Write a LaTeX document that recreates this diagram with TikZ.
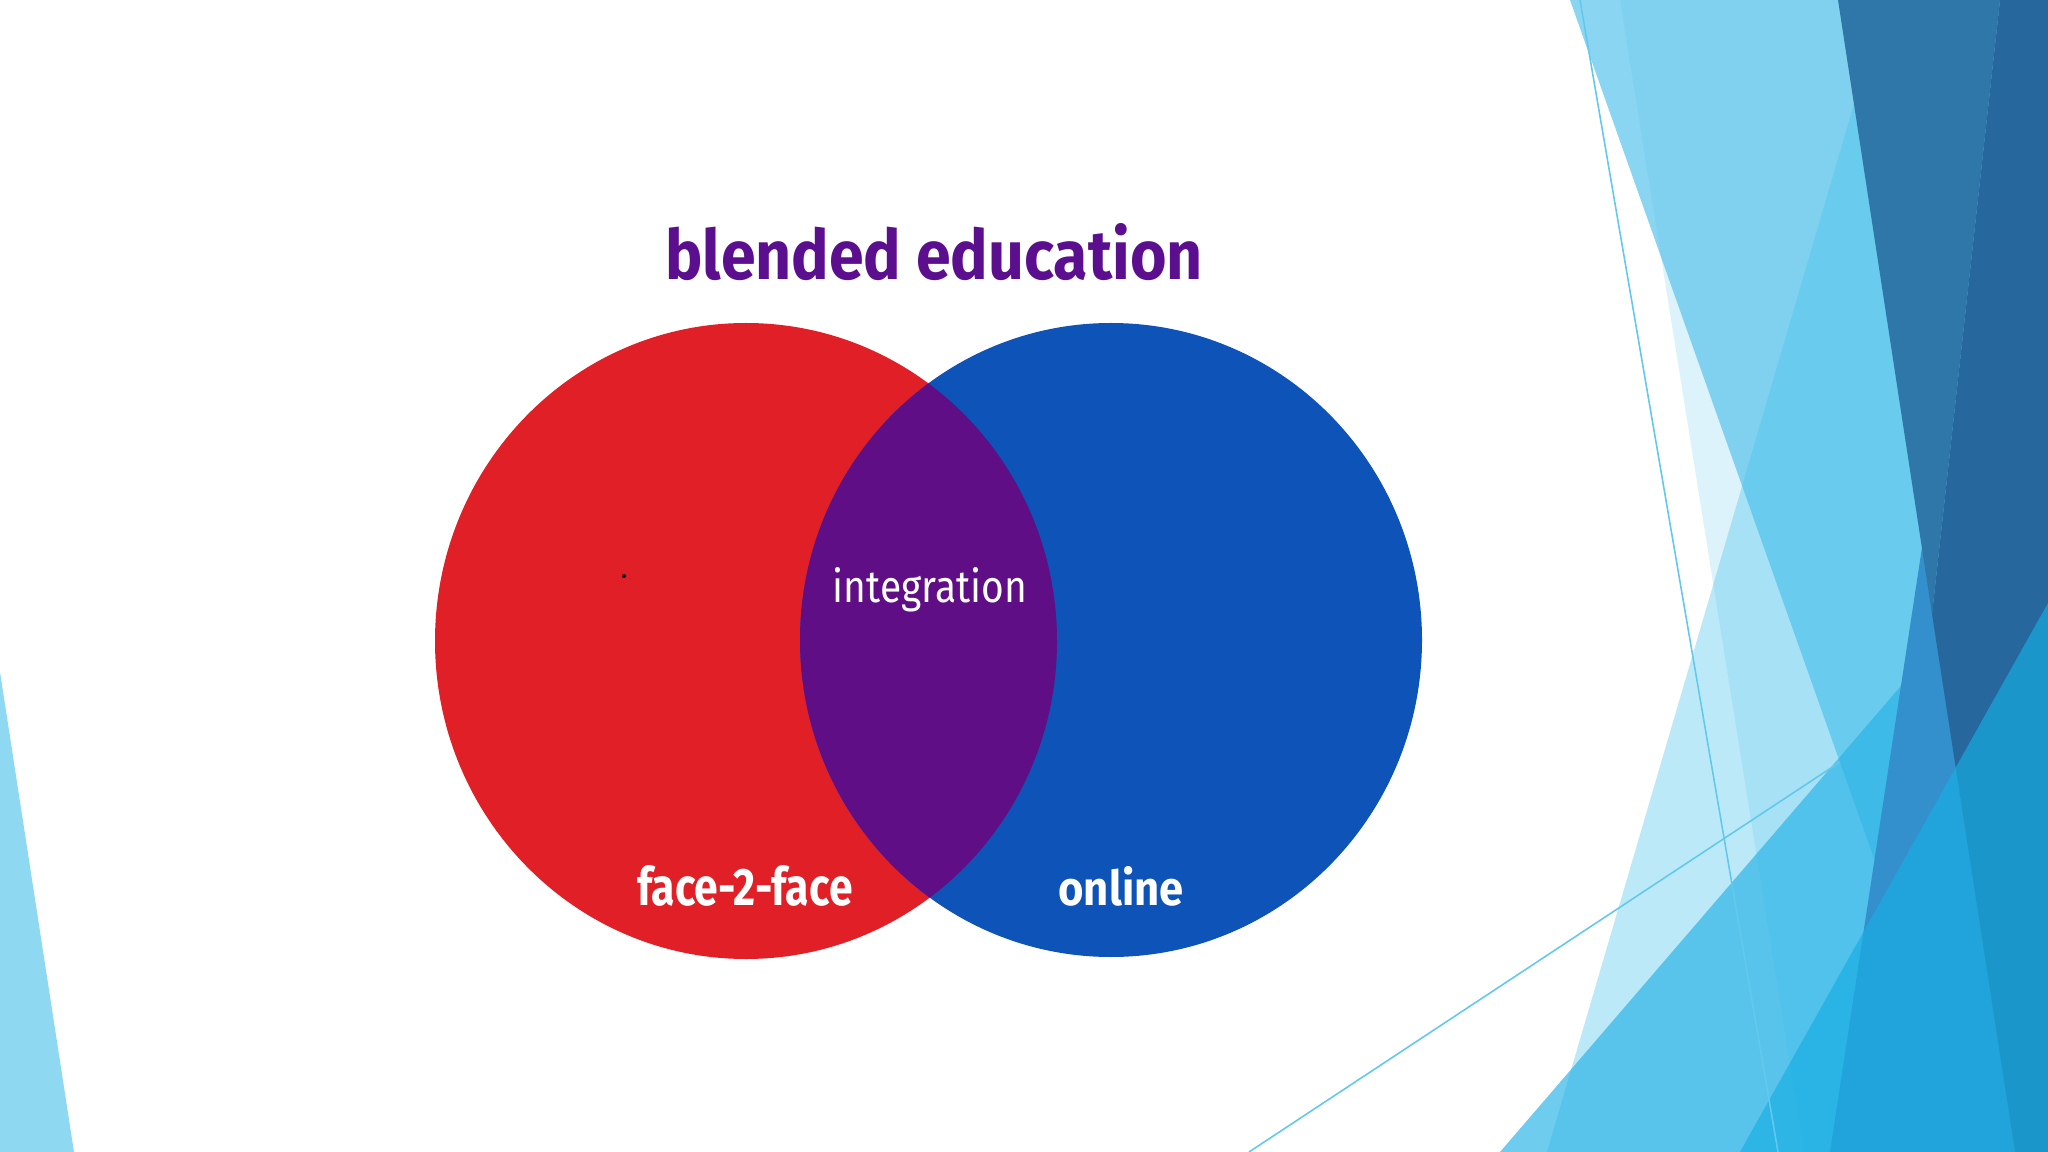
\documentclass[tikz,border=0pt]{standalone}
\usepackage{fontspec}
\setmainfont{Fira Sans}
\usepackage{graphicx}
\definecolor{facered}{HTML}{E01F26}
\definecolor{onlineblue}{HTML}{0D53B8}
\definecolor{mixpurple}{HTML}{5F0E85}
\definecolor{titlepurple}{HTML}{5B0F8E}
\definecolor{facetleft}{HTML}{8FD8F2}
\definecolor{facetpale}{HTML}{8AD5F1}
\definecolor{facetmid}{RGB}{85,195,235}
\definecolor{facetsky}{RGB}{65,192,237}
\definecolor{facetband}{RGB}{40,179,230}
\definecolor{facetsteel}{HTML}{3390CC}
\definecolor{facetdark}{HTML}{2E77A8}
\definecolor{facetdeep}{HTML}{26689D}
\definecolor{facetcyan}{RGB}{23,174,227}
\definecolor{facetline}{HTML}{62C9ED}
\begin{document}
\begin{tikzpicture}[x=0.01cm, y=-0.01cm,
  thin line/.style={draw=facetline, line width=0.45pt},
  label text/.style={anchor=base, inner sep=0pt, text=white}]
\useasboundingbox[fill=white] (0,0) rectangle (2048,1152);

\fill[facetleft] (0,672) -- (0,1152) -- (74,1152) -- cycle;
\fill[facetpale] (1570,0) -- (2048,0) -- (2048,1152) -- (1978,1152) -- cycle;
\fill[facetmid, opacity=.2] (1620,0) -- (2048,0) -- (2048,1152) -- (1804,1152) -- cycle;
\fill[facetsky, opacity=.35] (1854,104) -- (2015,1152) -- (1547,1152) -- cycle;
\fill[facetband, opacity=.67] (1500,1152) -- (2048,515) -- (2048,1152) -- cycle;
\fill[facetsteel] (1923,541) -- (2015,1152) -- (1830,1152) -- cycle;
\fill[facetdark] (1838,0) -- (2000,0) -- (1932,614) -- cycle;
\fill[facetdeep] (2000,0) -- (2048,0) -- (2048,1152) -- (2015,1152) -- (1932,614) -- cycle;
\fill[facetcyan, opacity=.67] (2048,603) -- (1740,1152) -- (2048,1152) -- cycle;
\draw[thin line] (1580,0) -- (1778,1152);
\draw[thin line] (1249,1152) -- (1840,762);

\fill[facered] (746,641) ellipse [x radius=311, y radius=318];
\fill[onlineblue] (1111,640) ellipse [x radius=311, y radius=317];
\begin{scope}
\clip (746,641) ellipse [x radius=311, y radius=318];
\fill[mixpurple] (1111,640) ellipse [x radius=311, y radius=317];
\end{scope}
\fill[black] (624,576) circle [radius=2];

\node[label text, text=titlepurple] (title) at (934,280) {\resizebox{5.37cm}{0.56cm}{\bfseries blended education}};
\node[label text] (mix) at (930,603) {\resizebox{1.94cm}{0.35cm}{integration}};
\node[label text] (f2f) at (745,905) {\resizebox{2.15cm}{0.40cm}{\bfseries face-2-face}};
\node[label text] (online) at (1121,905) {\resizebox{1.25cm}{0.39cm}{\bfseries online}};
\end{tikzpicture}
\end{document}
